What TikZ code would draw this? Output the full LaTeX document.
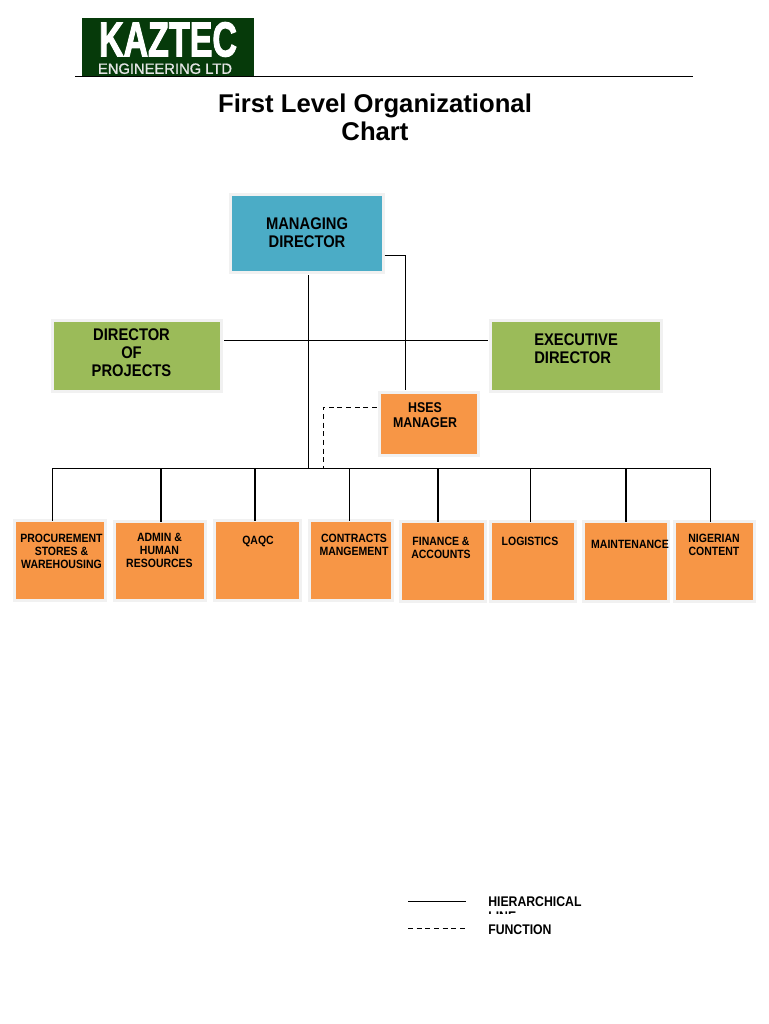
\documentclass[tikz,border=0pt]{standalone}
\usepackage{fontspec}
\setmainfont{Liberation Sans}
\newfontfamily\narrowfont[FakeStretch=0.875]{Liberation Sans}
\newfontfamily\heavyfont[FakeBold=2.5]{Liberation Sans}
\newfontfamily\semifont[FakeBold=1]{Liberation Sans}
\usetikzlibrary{calc}
\definecolor{logogreen}{HTML}{063A0A}
\definecolor{mdblue}{HTML}{4BACC6}
\definecolor{dirgreen}{HTML}{9BBB59}
\definecolor{boxorange}{HTML}{F79646}
\definecolor{halo}{HTML}{F1F1F1}
\tikzset{
  x=0.75pt,y=-0.75pt,
  box/.style={draw=halo,line width=2.25pt,inner sep=0pt,outer sep=0pt,anchor=north west},
  bossbox/.style={box,fill=mdblue,minimum width=114.5pt,minimum height=58.5pt},
  dirbox/.style={box,fill=dirgreen,minimum height=53.25pt},
  hsesbox/.style={box,fill=boxorange,minimum width=74.25pt,minimum height=47.25pt},
  deptbox/.style={box,fill=boxorange,minimum height=60pt},
  biglabel/.style={inner sep=0pt,align=center,font=\narrowfont\bfseries\fontsize{12.65}{13.5}\selectfont},
  midlabel/.style={inner sep=0pt,align=center,font=\narrowfont\bfseries\fontsize{10.6}{11.25}\selectfont},
  smalllabel/.style={inner sep=0pt,align=center,font=\narrowfont\bfseries\fontsize{9}{9.75}\selectfont},
  legendlabel/.style={inner sep=0pt,anchor=west,font=\narrowfont\bfseries\fontsize{10.5}{11.25}\selectfont},
  hier/.style={draw=black,line width=0.75pt},
  heavy/.style={draw=black,line width=1.15pt},
  func/.style={draw=black,line width=0.75pt,dash pattern=on 3.75pt off 2.75pt},
}
\begin{document}
\begin{tikzpicture}
\useasboundingbox (0,0) rectangle (768,1024);
\fill[white] (0,0) rectangle (768,1024);
% header
\node[fill=logogreen,inner sep=0pt,outer sep=0pt,minimum width=129pt,minimum height=43.5pt,anchor=north west] (logo) at (82,18) {};
\node[white,inner sep=0pt] (kaztec) at (168,39.5) {\resizebox{103.5pt}{25.5pt}{\heavyfont\bfseries KAZTEC}};
\node[white!90!black,inner sep=0pt] (eng) at (165,68.7) {\resizebox{100.5pt}{7.8pt}{\semifont ENGINEERING LTD}};
\coordinate (ruleL) at (75,76.5);
\coordinate (ruleR) at (693,76.5);
\draw[black,line width=0.75pt] (ruleL) -- (ruleR);
\node[inner sep=0pt,align=center,font=\bfseries\fontsize{19.25}{21}\selectfont] (title) at (375,117) {First Level Organizational\\Chart};
% boxes
\node[bossbox] (md) at (230.5,194.5) {};
\node[dirbox,minimum width=126.75pt] (dop) at (52.5,320.5) {};
\node[dirbox,minimum width=128.25pt] (exec) at (490.5,320.5) {};
\node[hsesbox] (hses) at (379.5,392.5) {};
\node[deptbox,minimum width=68.25pt] (proc) at (14.5,520.5) {};
\node[deptbox,minimum width=68.25pt,minimum height=59.25pt] (admin) at (114.5,521.5) {};
\node[deptbox,minimum width=64.5pt] (qaqc) at (214.5,520.5) {};
\node[deptbox,minimum width=62.25pt] (contracts) at (309.5,520.5) {};
\node[deptbox,minimum width=63.75pt] (finance) at (400.5,521.5) {};
\node[deptbox,minimum width=63.75pt] (logistics) at (490.5,521.5) {};
\node[deptbox,minimum width=63.75pt] (maint) at (583.5,521.5) {};
\node[deptbox,minimum width=60pt] (nigerian) at (674.5,521.5) {};
% labels
\node[biglabel] (mdt) at (307,233) {MANAGING\\DIRECTOR};
\node[biglabel] (dopt) at (131.5,353) {DIRECTOR\\OF\\PROJECTS};
\node[biglabel,align=left,anchor=west] (exect) at (534,349) {EXECUTIVE\\DIRECTOR};
\node[midlabel] (hsest) at (425,415.5) {HSES\\MANAGER};
\node[smalllabel] (proct) at (61.5,551) {PROCUREMENT\\STORES \&\\WAREHOUSING};
\node[smalllabel] (admint) at (159.5,550) {ADMIN \&\\HUMAN\\RESOURCES};
\node[smalllabel] (qaqct) at (258,541) {QAQC};
\node[smalllabel] (contractst) at (354,544.5) {CONTRACTS\\MANGEMENT};
\node[smalllabel] (financet) at (441,547.5) {FINANCE \&\\ACCOUNTS};
\node[smalllabel] (logisticst) at (530,541) {LOGISTICS};
\node[smalllabel] (maintt) at (630,544) {MAINTENANCE};
\node[smalllabel] (nigeriant) at (714,544.5) {NIGERIAN\\CONTENT};
% connectors
\coordinate (mdout) at (308,275);
\coordinate (busjoin) at (308,468);
\coordinate (busL) at (52,468);
\coordinate (busR) at (710,468);
\coordinate (dbus) at (323,468);
\coordinate (mdright) at (405,255);
\coordinate (crossy) at (308,340);
\coordinate (hsesy) at (323,407);
\draw[hier] (mdout) -- (busjoin);
\draw[hier,shorten <=1.9pt,shorten >=1.9pt] (dop.east |- crossy) -- (exec.west |- crossy);
\draw[hier,shorten <=1pt,shorten >=1.9pt] (md.east |- mdright) -- (mdright) -- (mdright |- hses.north);
\draw[hier] (busL) -- (busR);
\draw[func,shorten <=2pt] (hses.west |- hsesy) -- (hsesy) -- (dbus);
\draw[hier] (busL) -- (busL |- proc.north);
\coordinate (d2) at (161,468);
\coordinate (d3) at (255,468);
\coordinate (d4) at (349,468);
\coordinate (d5) at (438,468);
\coordinate (d6) at (530,468);
\coordinate (d7) at (626,468);
\draw[heavy] (d2) -- (d2 |- admin.north);
\draw[heavy] (d3) -- (d3 |- qaqc.north);
\draw[hier] (d4) -- (d4 |- contracts.north);
\draw[heavy] (d5) -- (d5 |- finance.north);
\draw[hier] (d6) -- (d6 |- logistics.north);
\draw[heavy] (d7) -- (d7 |- maint.north);
\draw[hier] (busR) -- (busR |- nigerian.north);
% legend
\coordinate (l1a) at (408,901);
\coordinate (l1b) at (466,901);
\coordinate (l2a) at (408,928.5);
\coordinate (l2b) at (466,928.5);
\draw[hier] (l1a) -- (l1b);
\draw[func] (l2a) -- (l2b);
\node[legendlabel] (lh) at (488,902) {HIERARCHICAL};
\begin{scope}
\clip (480,910) rectangle (600,913.5);
\node[legendlabel] (ll) at (488,917) {LINE};
\end{scope}
\node[legendlabel] (lf) at (488,930) {FUNCTION};
\end{tikzpicture}
\end{document}
